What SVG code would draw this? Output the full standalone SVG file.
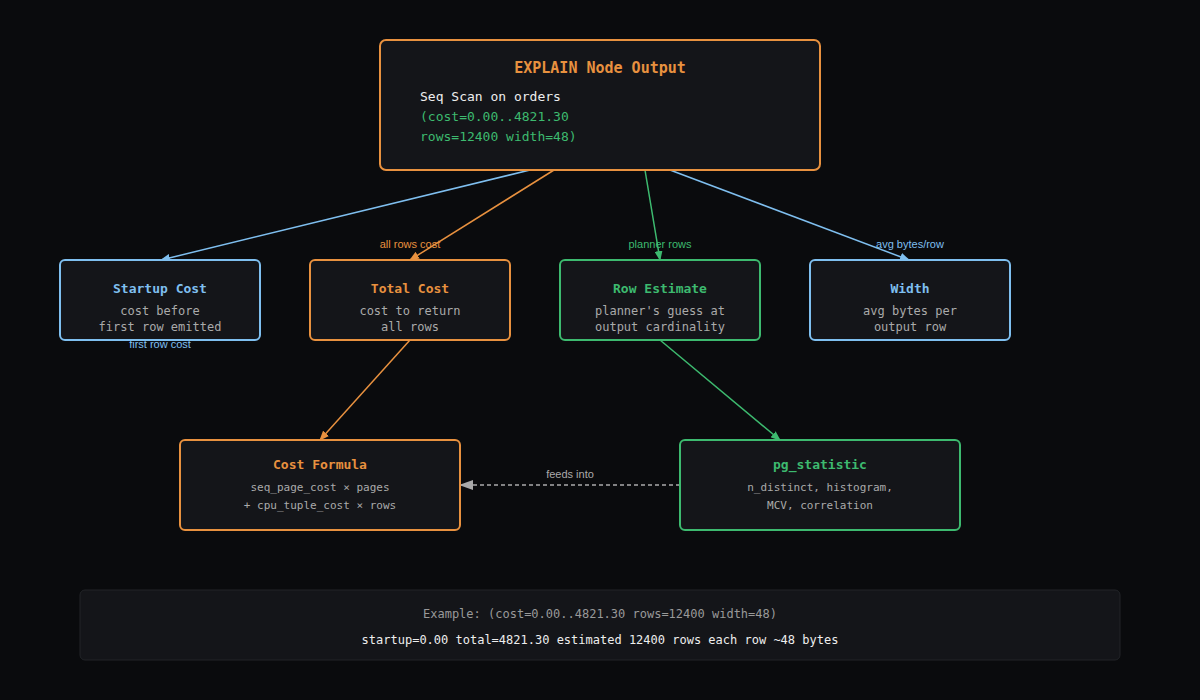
<svg xmlns="http://www.w3.org/2000/svg" width="1200" height="700" viewBox="0 0 1200 700">
<style>
.box{fill:#141519;stroke-width:2}
.m{font-family:"DejaVu Sans Mono","Liberation Mono",monospace}
.s{font-family:"Liberation Sans",Arial,sans-serif;font-size:11px}
.t{font-size:13px;font-weight:bold;text-anchor:middle}
.d{font-size:12px;fill:#aaaaaa;text-anchor:middle}
.d2{font-size:11px;fill:#aaaaaa;text-anchor:middle}
</style>
<defs>
<marker id="ab" markerWidth="10" markerHeight="8" refX="9" refY="4" orient="auto" markerUnits="userSpaceOnUse"><path d="M0,0L10,4L0,8z" fill="#7fbfef"/></marker>
<marker id="ao" markerWidth="10" markerHeight="8" refX="9" refY="4" orient="auto" markerUnits="userSpaceOnUse"><path d="M0,0L10,4L0,8z" fill="#e8913f"/></marker>
<marker id="ag" markerWidth="10" markerHeight="8" refX="9" refY="4" orient="auto" markerUnits="userSpaceOnUse"><path d="M0,0L10,4L0,8z" fill="#3dba6f"/></marker>
<marker id="ay" markerWidth="14" markerHeight="10" refX="13" refY="5" orient="auto" markerUnits="userSpaceOnUse"><path d="M0,0L14,5L0,10z" fill="#aaaaaa"/></marker>
</defs>
<rect width="1200" height="700" fill="#0a0b0d"/>
<g id="connectors" fill="none" stroke-width="1.5">
<line x1="530" y1="170" x2="161" y2="260" stroke="#7fbfef" marker-end="url(#ab)"/>
<line x1="554" y1="170" x2="410" y2="260" stroke="#e8913f" marker-end="url(#ao)"/>
<line x1="645" y1="170" x2="660" y2="260" stroke="#3dba6f" marker-end="url(#ag)"/>
<line x1="670" y1="170" x2="909" y2="260" stroke="#7fbfef" marker-end="url(#ab)"/>
<line x1="410" y1="340" x2="320" y2="440" stroke="#e8913f" marker-end="url(#ao)"/>
<line x1="660" y1="340" x2="780" y2="440" stroke="#3dba6f" marker-end="url(#ag)"/>
<line x1="680" y1="485" x2="460" y2="485" stroke="#aaaaaa" stroke-dasharray="4,3" marker-end="url(#ay)"/>
<g stroke="none" text-anchor="middle" class="s">
<text x="160" y="348" fill="#7fbfef">first row cost</text>
<text x="410" y="248" fill="#e8913f">all rows cost</text>
<text x="660" y="248" fill="#3dba6f">planner rows</text>
<text x="910" y="248" fill="#7fbfef">avg bytes/row</text>
<text x="570" y="478" fill="#aaaaaa">feeds into</text>
</g>
</g>
<g id="explain">
<rect class="box" x="380" y="40" width="440" height="130" rx="6" stroke="#e8913f"/>
<text class="m" x="600" y="73" font-size="15" font-weight="bold" fill="#e8913f" text-anchor="middle">EXPLAIN Node Output</text>
<text class="m" x="420" y="101" font-size="13" fill="#eeeeee">Seq Scan on orders</text>
<text class="m" x="420" y="121" font-size="13" fill="#3dba6f">(cost=0.00..4821.30</text>
<text class="m" x="420" y="141" font-size="13" fill="#3dba6f">rows=12400 width=48)</text>
</g>
<g id="startup">
<rect class="box" x="60" y="260" width="200" height="80" rx="5" stroke="#7fbfef"/>
<text class="m t" x="160" y="293" fill="#7fbfef">Startup Cost</text>
<text class="m d" x="160" y="315">cost before</text>
<text class="m d" x="160" y="331">first row emitted</text>
</g>
<g id="total">
<rect class="box" x="310" y="260" width="200" height="80" rx="5" stroke="#e8913f"/>
<text class="m t" x="410" y="293" fill="#e8913f">Total Cost</text>
<text class="m d" x="410" y="315">cost to return</text>
<text class="m d" x="410" y="331">all rows</text>
</g>
<g id="rows">
<rect class="box" x="560" y="260" width="200" height="80" rx="5" stroke="#3dba6f"/>
<text class="m t" x="660" y="293" fill="#3dba6f">Row Estimate</text>
<text class="m d" x="660" y="315">planner's guess at</text>
<text class="m d" x="660" y="331">output cardinality</text>
</g>
<g id="width">
<rect class="box" x="810" y="260" width="200" height="80" rx="5" stroke="#7fbfef"/>
<text class="m t" x="910" y="293" fill="#7fbfef">Width</text>
<text class="m d" x="910" y="315">avg bytes per</text>
<text class="m d" x="910" y="331">output row</text>
</g>
<g id="formula">
<rect class="box" x="180" y="440" width="280" height="90" rx="5" stroke="#e8913f"/>
<text class="m t" x="320" y="469" fill="#e8913f">Cost Formula</text>
<text class="m d2" x="320" y="491">seq_page_cost × pages</text>
<text class="m d2" x="320" y="509">+ cpu_tuple_cost × rows</text>
</g>
<g id="pgstat">
<rect class="box" x="680" y="440" width="280" height="90" rx="5" stroke="#3dba6f"/>
<text class="m t" x="820" y="469" fill="#3dba6f">pg_statistic</text>
<text class="m d2" x="820" y="491">n_distinct, histogram,</text>
<text class="m d2" x="820" y="509">MCV, correlation</text>
</g>
<g id="example">
<rect x="80" y="590" width="1040" height="70" rx="5" fill="#141519" stroke="#222428"/>
<text class="m" x="600" y="618" font-size="12" fill="#999999" text-anchor="middle">Example: (cost=0.00..4821.30 rows=12400 width=48)</text>
<text class="m" x="600" y="644" font-size="12" fill="#eeeeee" text-anchor="middle">startup=0.00 total=4821.30 estimated 12400 rows each row ~48 bytes</text>
</g>
</svg>
